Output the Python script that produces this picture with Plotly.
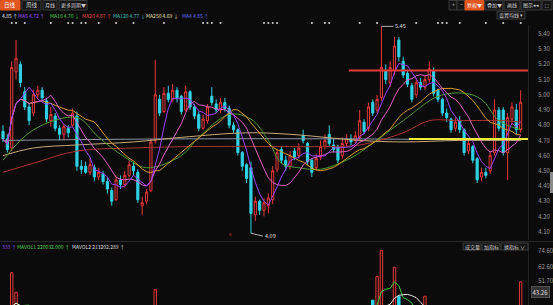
import plotly.graph_objects as go
import pandas as pd

W, H = 553, 305

# ---------------- data ----------------
opens = [4.76, 4.71, 4.65, 5.15, 5.20, 5.02, 4.92, 4.88, 5.00, 5.03,
         4.96, 4.83, 4.86, 4.78, 4.74, 4.78, 4.80, 4.86, 4.53, 4.53,
         4.49, 4.52, 4.46, 4.48, 4.43, 4.37, 4.31, 4.44, 4.41, 4.47,
         4.53, 4.49, 4.27, 4.30, 4.37, 4.70, 4.97, 4.89, 5.01, 4.97,
         5.03, 4.99, 4.90, 5.02, 4.92, 4.87, 4.78, 4.83, 4.99, 4.94,
         4.90, 4.95, 4.91, 4.80, 4.77, 4.62, 4.54, 4.52, 4.21, 4.30,
         4.24, 4.27, 4.31, 4.51, 4.64, 4.57, 4.53, 4.63, 4.60, 4.73,
         4.68, 4.57, 4.52, 4.59, 4.66, 4.74, 4.67, 4.66, 4.60, 4.68,
         4.71, 4.70, 4.72, 4.82, 4.78, 4.95, 4.90, 4.98, 5.16, 5.08,
         5.16, 5.36, 5.22, 5.14, 5.06, 5.00, 5.08, 5.05, 5.10, 5.16,
         5.03, 4.97, 4.88, 4.84, 4.78, 4.83, 4.77, 4.63, 4.66, 4.58,
         4.46, 4.49, 4.50, 4.62, 4.90, 4.90, 4.62, 4.84, 4.90, 4.77]
highs = [4.80, 4.74, 5.22, 5.36, 5.22, 5.05, 4.94, 5.03, 5.06, 5.05,
         4.98, 4.92, 4.88, 4.80, 4.81, 4.80, 4.91, 4.89, 4.57, 4.56,
         4.58, 4.54, 4.52, 4.50, 4.46, 4.39, 4.47, 4.47, 4.50, 4.57,
         4.56, 4.51, 4.33, 4.38, 4.71, 5.23, 5.00, 5.05, 5.06, 5.07,
         5.05, 5.00, 5.06, 5.03, 4.94, 4.89, 4.87, 4.94, 5.05, 4.97,
         4.98, 4.98, 4.93, 4.82, 4.78, 4.63, 4.55, 4.56, 4.33, 4.31,
         4.32, 4.35, 4.53, 4.64, 4.66, 4.60, 4.63, 4.65, 4.68, 4.77,
         4.69, 4.58, 4.61, 4.70, 4.74, 4.80, 4.71, 4.67, 4.72, 4.74,
         4.74, 4.76, 4.90, 4.84, 4.95, 4.97, 5.00, 5.45, 5.20, 5.22,
         5.38, 5.38, 5.25, 5.16, 5.08, 5.11, 5.11, 5.13, 5.22, 5.18,
         5.04, 4.98, 4.91, 4.85, 4.85, 4.86, 4.78, 4.71, 4.67, 4.59,
         4.52, 4.52, 4.63, 4.97, 4.92, 4.92, 4.88, 4.95, 4.94, 5.03]
lows = [4.69, 4.62, 4.63, 5.10, 5.05, 4.90, 4.80, 4.86, 4.97, 4.96,
        4.82, 4.79, 4.76, 4.70, 4.70, 4.72, 4.79, 4.50, 4.48, 4.48,
        4.47, 4.43, 4.44, 4.41, 4.35, 4.27, 4.30, 4.38, 4.39, 4.46,
        4.47, 4.29, 4.21, 4.28, 4.36, 4.68, 4.86, 4.88, 4.95, 4.95,
        4.95, 4.87, 4.89, 4.90, 4.84, 4.76, 4.77, 4.81, 4.93, 4.88,
        4.88, 4.89, 4.78, 4.75, 4.60, 4.50, 4.42, 4.09, 4.17, 4.21,
        4.20, 4.22, 4.28, 4.49, 4.55, 4.50, 4.51, 4.57, 4.58, 4.68,
        4.54, 4.46, 4.50, 4.57, 4.64, 4.66, 4.62, 4.55, 4.58, 4.66,
        4.67, 4.68, 4.70, 4.74, 4.76, 4.86, 4.88, 4.96, 5.07, 5.05,
        5.13, 5.22, 5.11, 5.05, 4.95, 4.98, 5.03, 5.03, 5.08, 4.99,
        4.95, 4.86, 4.82, 4.75, 4.76, 4.75, 4.60, 4.61, 4.55, 4.42,
        4.43, 4.45, 4.48, 4.60, 4.76, 4.60, 4.44, 4.80, 4.74, 4.75]
closes = [4.71, 4.64, 5.18, 5.24, 5.08, 4.92, 4.83, 5.00, 5.03, 4.98,
          4.84, 4.87, 4.78, 4.74, 4.79, 4.75, 4.88, 4.53, 4.51, 4.49,
          4.54, 4.46, 4.49, 4.43, 4.38, 4.30, 4.44, 4.41, 4.47, 4.54,
          4.50, 4.31, 4.29, 4.36, 4.69, 5.00, 4.88, 5.01, 4.97, 5.03,
          4.98, 4.89, 5.02, 4.92, 4.86, 4.78, 4.84, 4.92, 4.95, 4.90,
          4.95, 4.91, 4.80, 4.77, 4.62, 4.53, 4.45, 4.22, 4.30, 4.24,
          4.29, 4.32, 4.50, 4.62, 4.57, 4.53, 4.60, 4.59, 4.65, 4.70,
          4.56, 4.49, 4.58, 4.66, 4.70, 4.68, 4.64, 4.57, 4.68, 4.71,
          4.69, 4.73, 4.83, 4.76, 4.92, 4.88, 4.97, 5.18, 5.10, 5.18,
          5.32, 5.25, 5.13, 5.07, 4.97, 5.08, 5.05, 5.10, 5.17, 5.01,
          4.97, 4.88, 4.85, 4.77, 4.82, 4.77, 4.62, 4.68, 4.57, 4.44,
          4.49, 4.47, 4.60, 4.90, 4.78, 4.62, 4.85, 4.92, 4.77, 4.95]
# volume, 10k lots
volumes = [20, 18, 58, 43, 25, 22, 18, 16, 15, 14,
           17, 15, 14, 13, 12, 12, 16, 30, 18, 15,
           14, 15, 13, 14, 16, 18, 17, 14, 13, 15,
           14, 20, 22, 18, 30, 45, 28, 24, 20, 18,
           17, 18, 20, 18, 16, 17, 15, 18, 22, 17,
           15, 14, 18, 16, 22, 24, 25, 30, 22, 18,
           16, 17, 28, 25, 20, 17, 18, 16, 18, 20,
           22, 20, 17, 18, 17, 19, 17, 18, 18, 17,
           16, 18, 25, 20, 30, 37, 55, 75, 30, 33,
           62, 40, 30, 22, 20, 22, 20, 40, 30, 25,
           22, 20, 18, 17, 16, 17, 22, 18, 20, 24,
           18, 16, 20, 32, 26, 28, 30, 25, 22, 51]
days = list(range(len(closes)))

# longer moving averages, read at sample days
ma_a_days = [0, 7, 17, 22, 28, 33, 41, 45, 52, 57, 61, 64, 68, 73, 79, 82, 92, 100, 106, 110, 114, 119]
ma_a_vals = [4.57, 4.77, 4.85, 4.72, 4.59, 4.52, 4.60, 4.72, 4.87, 4.84, 4.70, 4.55, 4.52, 4.51,
             4.57, 4.62, 4.83, 4.99, 5.01, 4.97, 4.83, 4.77]
ma_b_days = [0, 7, 17, 30, 41, 56, 66, 82, 92, 105, 119]
ma_b_vals = [4.60, 4.65, 4.67, 4.69, 4.72, 4.75, 4.74, 4.70, 4.69, 4.70, 4.70]
ma_c_days = [0, 7, 17, 30, 45, 60, 75, 82, 92, 98, 105, 115, 119]
ma_c_vals = [4.49, 4.55, 4.63, 4.65, 4.66, 4.66, 4.66, 4.67, 4.75, 4.83, 4.83, 4.83, 4.82]
ma_d_days = [0, 40, 80, 119]
ma_d_vals = [4.70, 4.71, 4.71, 4.70]

resistance_level = 5.16
resistance_from = 79.5
support_level = 4.71
support_from = 93.3

event_days = [2, 3, 5, 11, 15, 16, 18, 19, 22, 26, 30, 37, 46, 47, 48, 50, 60, 61, 62, 63,
              71, 74, 75, 82, 86, 95, 100, 101, 102, 105, 111, 115, 119]

price_ticks = [5.40, 5.30, 5.20, 5.10, 5.00, 4.90, 4.80, 4.70, 4.60, 4.50, 4.40, 4.30, 4.20, 4.10]
vol_ticks = [74.60, 62.60, 51.70]

# ---------------- helpers ----------------
def fx(px):
    return px / W

def fy(py):
    return 1 - py / H

BG = "#0b0b0b"
UP = "#e8383a"
DN = "#2fd3e6"

fig = go.Figure()

fig.add_trace(go.Candlestick(
    x=days, open=opens, high=highs, low=lows, close=closes,
    increasing=dict(line=dict(color=UP, width=1), fillcolor=BG),
    decreasing=dict(line=dict(color=DN, width=1), fillcolor=DN),
    whiskerwidth=0, xaxis="x", yaxis="y", hoverinfo="skip", showlegend=False))

for d, v, c in [(ma_d_days, ma_d_vals, "#8a95a5"),
                (ma_c_days, ma_c_vals, "#a8332e"),
                (ma_b_days, ma_b_vals, "#c9a97a"),
                (ma_a_days, ma_a_vals, "#4f9a2e")]:
    fig.add_trace(go.Scatter(x=d, y=v, mode="lines", line=dict(color=c, width=1, shape="spline", smoothing=1.0),
                             xaxis="x", yaxis="y", hoverinfo="skip", showlegend=False))

cs = pd.Series(closes)
for n, c in [(20, "#d79a2a"), (10, "#e060c8"), (5, "#9b45f0")]:
    fig.add_trace(go.Scatter(x=days, y=cs.rolling(n, min_periods=1).mean(), mode="lines",
                             line=dict(color=c, width=1), xaxis="x", yaxis="y",
                             hoverinfo="skip", showlegend=False))

up = [c >= o for o, c in zip(opens, closes)]
fig.add_trace(go.Bar(
    x=days, y=volumes, width=0.55,
    marker=dict(color=[BG if u else DN for u in up],
                line=dict(color=[UP if u else DN for u in up], width=1)),
    xaxis="x2", yaxis="y2", hoverinfo="skip", showlegend=False))
vs = pd.Series(volumes)
fig.add_trace(go.Scatter(x=days, y=vs.rolling(5, min_periods=1).mean(), mode="lines",
                         line=dict(color="#3ccf3c", width=1), xaxis="x2", yaxis="y2",
                         hoverinfo="skip", showlegend=False))
fig.add_trace(go.Scatter(x=days, y=vs.rolling(10, min_periods=1).mean(), mode="lines",
                         line=dict(color="#e8e8e8", width=1), xaxis="x2", yaxis="y2",
                         hoverinfo="skip", showlegend=False))

XD = [0, 528 / W]
xr = [-0.69, 120.69]
fig.update_layout(
    width=W, height=H, margin=dict(l=0, r=0, t=0, b=0),
    paper_bgcolor=BG, plot_bgcolor=BG, showlegend=False,
    font=dict(family="Noto Sans CJK SC, sans-serif", size=6, color="#a0a0a0"),
    xaxis=dict(domain=XD, range=xr, visible=False, rangeslider=dict(visible=False), anchor="y"),
    xaxis2=dict(domain=XD, range=xr, visible=False, anchor="y2", matches="x"),
    yaxis=dict(domain=[fy(240), fy(25)], range=[4.045, 5.459], side="right", anchor="x",
               tickvals=price_ticks, ticktext=[f"{t:.2f}" for t in price_ticks],
               tickfont=dict(size=6, color="#9a9a9a"), showgrid=False, zeroline=False,
               ticks="", ticklabelstandoff=8, showline=True, linecolor="#222"),
    yaxis2=dict(domain=[0, fy(243)], range=[33.3, 80.7], side="right", anchor="x2",
                tickvals=vol_ticks, ticktext=[f"{t:.2f}" for t in vol_ticks],
                tickfont=dict(size=6, color="#9a9a9a"), showgrid=False, zeroline=False,
                ticks="", ticklabelstandoff=8, showline=True, linecolor="#222"),
)

shapes = []
ann = []
# drawn horizontal lines
shapes.append(dict(type="line", xref="x", yref="y", x0=resistance_from, x1=xr[1], y0=resistance_level,
                   y1=resistance_level, line=dict(color="#e83a3a", width=2)))
shapes.append(dict(type="line", xref="x", yref="y", x0=support_from, x1=xr[1], y0=support_level,
                   y1=support_level, line=dict(color="#f0f03a", width=2)))
# panel separator
shapes.append(dict(type="line", xref="paper", yref="paper", x0=0, x1=1, y0=fy(241.5), y1=fy(241.5),
                   line=dict(color="#2a2a2a", width=1)))
# event dots
for d in event_days:
    shapes.append(dict(type="rect", xref="x", yref="paper", x0=d - 0.2, x1=d + 0.2, y0=fy(24), y1=fy(22),
                       fillcolor="#bbbbbb", line=dict(width=0)))
# scroll thumb
shapes.append(dict(type="rect", xref="paper", yref="paper", x0=fx(550), x1=fx(553), y0=fy(193), y1=fy(172),
                   fillcolor="#8a8a8a", line=dict(width=0)))

def button(x0, x1, label, fill="#151515", border="#3a3a3a", color="#cfcfcf", y0=0.5, y1=10, size=5.5):
    shapes.append(dict(type="rect", xref="paper", yref="paper", x0=fx(x0), x1=fx(x1), y0=fy(y1), y1=fy(y0),
                       fillcolor=fill, line=dict(color=border, width=1)))
    ann.append(dict(xref="paper", yref="paper", x=fx((x0 + x1) / 2), y=fy((y0 + y1) / 2), text=label,
                    showarrow=False, font=dict(size=size, color=color), xanchor="center", yanchor="middle"))

button(0.5, 20, "日线", fill="#e2561f", border="#e2561f", color="#ffffff")
button(22, 41, "周线")
button(43, 57, "月线", size=5)
button(59, 87, "更多周期▼", size=5)
button(449, 457, "+")
button(457, 465, "−")
button(465, 484, "复权▼", fill="#e2561f", border="#e2561f", color="#ffffff", size=5)
button(485, 503, "叠加▼", size=5)
button(504, 520, "画线", size=5)
button(521, 541, "图示◂◂", size=5)
button(542, 552, "⛶", size=5)
button(497, 525, "设置均线 ▾", y0=11.5, y1=19, size=5)

# header legend
legend = [(0, "4.85 ↑", "#e6e6e6"), (16, "MA5 4.72 ↑", "#a050ff"), (48, "MA10 4.70 ↓", "#4fd04f"),
          (80, "MA20 4.67 ↑", "#e84848"), (111, "MA120 4.77 ↓", "#40c0c0"), (144, "MA250 4.69 ↓", "#e6e0b0"),
          (180, "MA4 4.85 ↑", "#6a6aff")]
for x, t, c in legend:
    ann.append(dict(xref="paper", yref="paper", x=fx(x), y=fy(15), text=t, showarrow=False,
                    font=dict(size=5, color=c), xanchor="left", yanchor="middle"))

vol_leg = [(0, "333 ↑", "#a050ff"), (15, "MAVOL1 220032.000 ↑", "#4fd04f"), (70, "MAVOL2 213202.289 ↑", "#dddddd")]
for x, t, c in vol_leg:
    ann.append(dict(xref="paper", yref="paper", x=fx(x), y=fy(246.5), text=t, showarrow=False,
                    font=dict(size=5, color=c), xanchor="left", yanchor="middle"))
button(463, 481, "成交量", y0=243, y1=250, size=5)
button(482, 500, "加指标", y0=243, y1=250, size=5)
button(501, 528, "换指标 ∨", y0=243, y1=250, size=5)

# current volume box
ann.append(dict(xref="paper", yref="paper", x=fx(540), y=fy(292), text="43.26", showarrow=False,
                font=dict(size=6, color="#dddddd"), bgcolor="#333333", bordercolor="#777", borderwidth=0.5,
                xanchor="center", yanchor="middle"))

# high / low labels
hi_i = max(days, key=lambda i: highs[i])
lo_i = min(days, key=lambda i: lows[i])
ann.append(dict(x=hi_i, y=highs[hi_i], xref="x", yref="y", text=f"{highs[hi_i]:.2f}", showarrow=True,
                arrowhead=0, arrowwidth=0.8, arrowcolor="#dddddd", ax=12, ay=0, xanchor="left",
                font=dict(size=5.5, color="#dddddd")))
ann.append(dict(x=lo_i, y=lows[lo_i], xref="x", yref="y", text=f"{lows[lo_i]:.2f}", showarrow=True,
                arrowhead=0, arrowwidth=0.8, arrowcolor="#dddddd", ax=12, ay=3, xanchor="left",
                font=dict(size=5.5, color="#dddddd")))
ann.append(dict(xref="paper", yref="paper", x=fx(230), y=fy(239), text="x", showarrow=False,
                font=dict(size=5, color="#d03030")))

fig.update_layout(shapes=shapes, annotations=ann)
fig.write_html("out.html")
